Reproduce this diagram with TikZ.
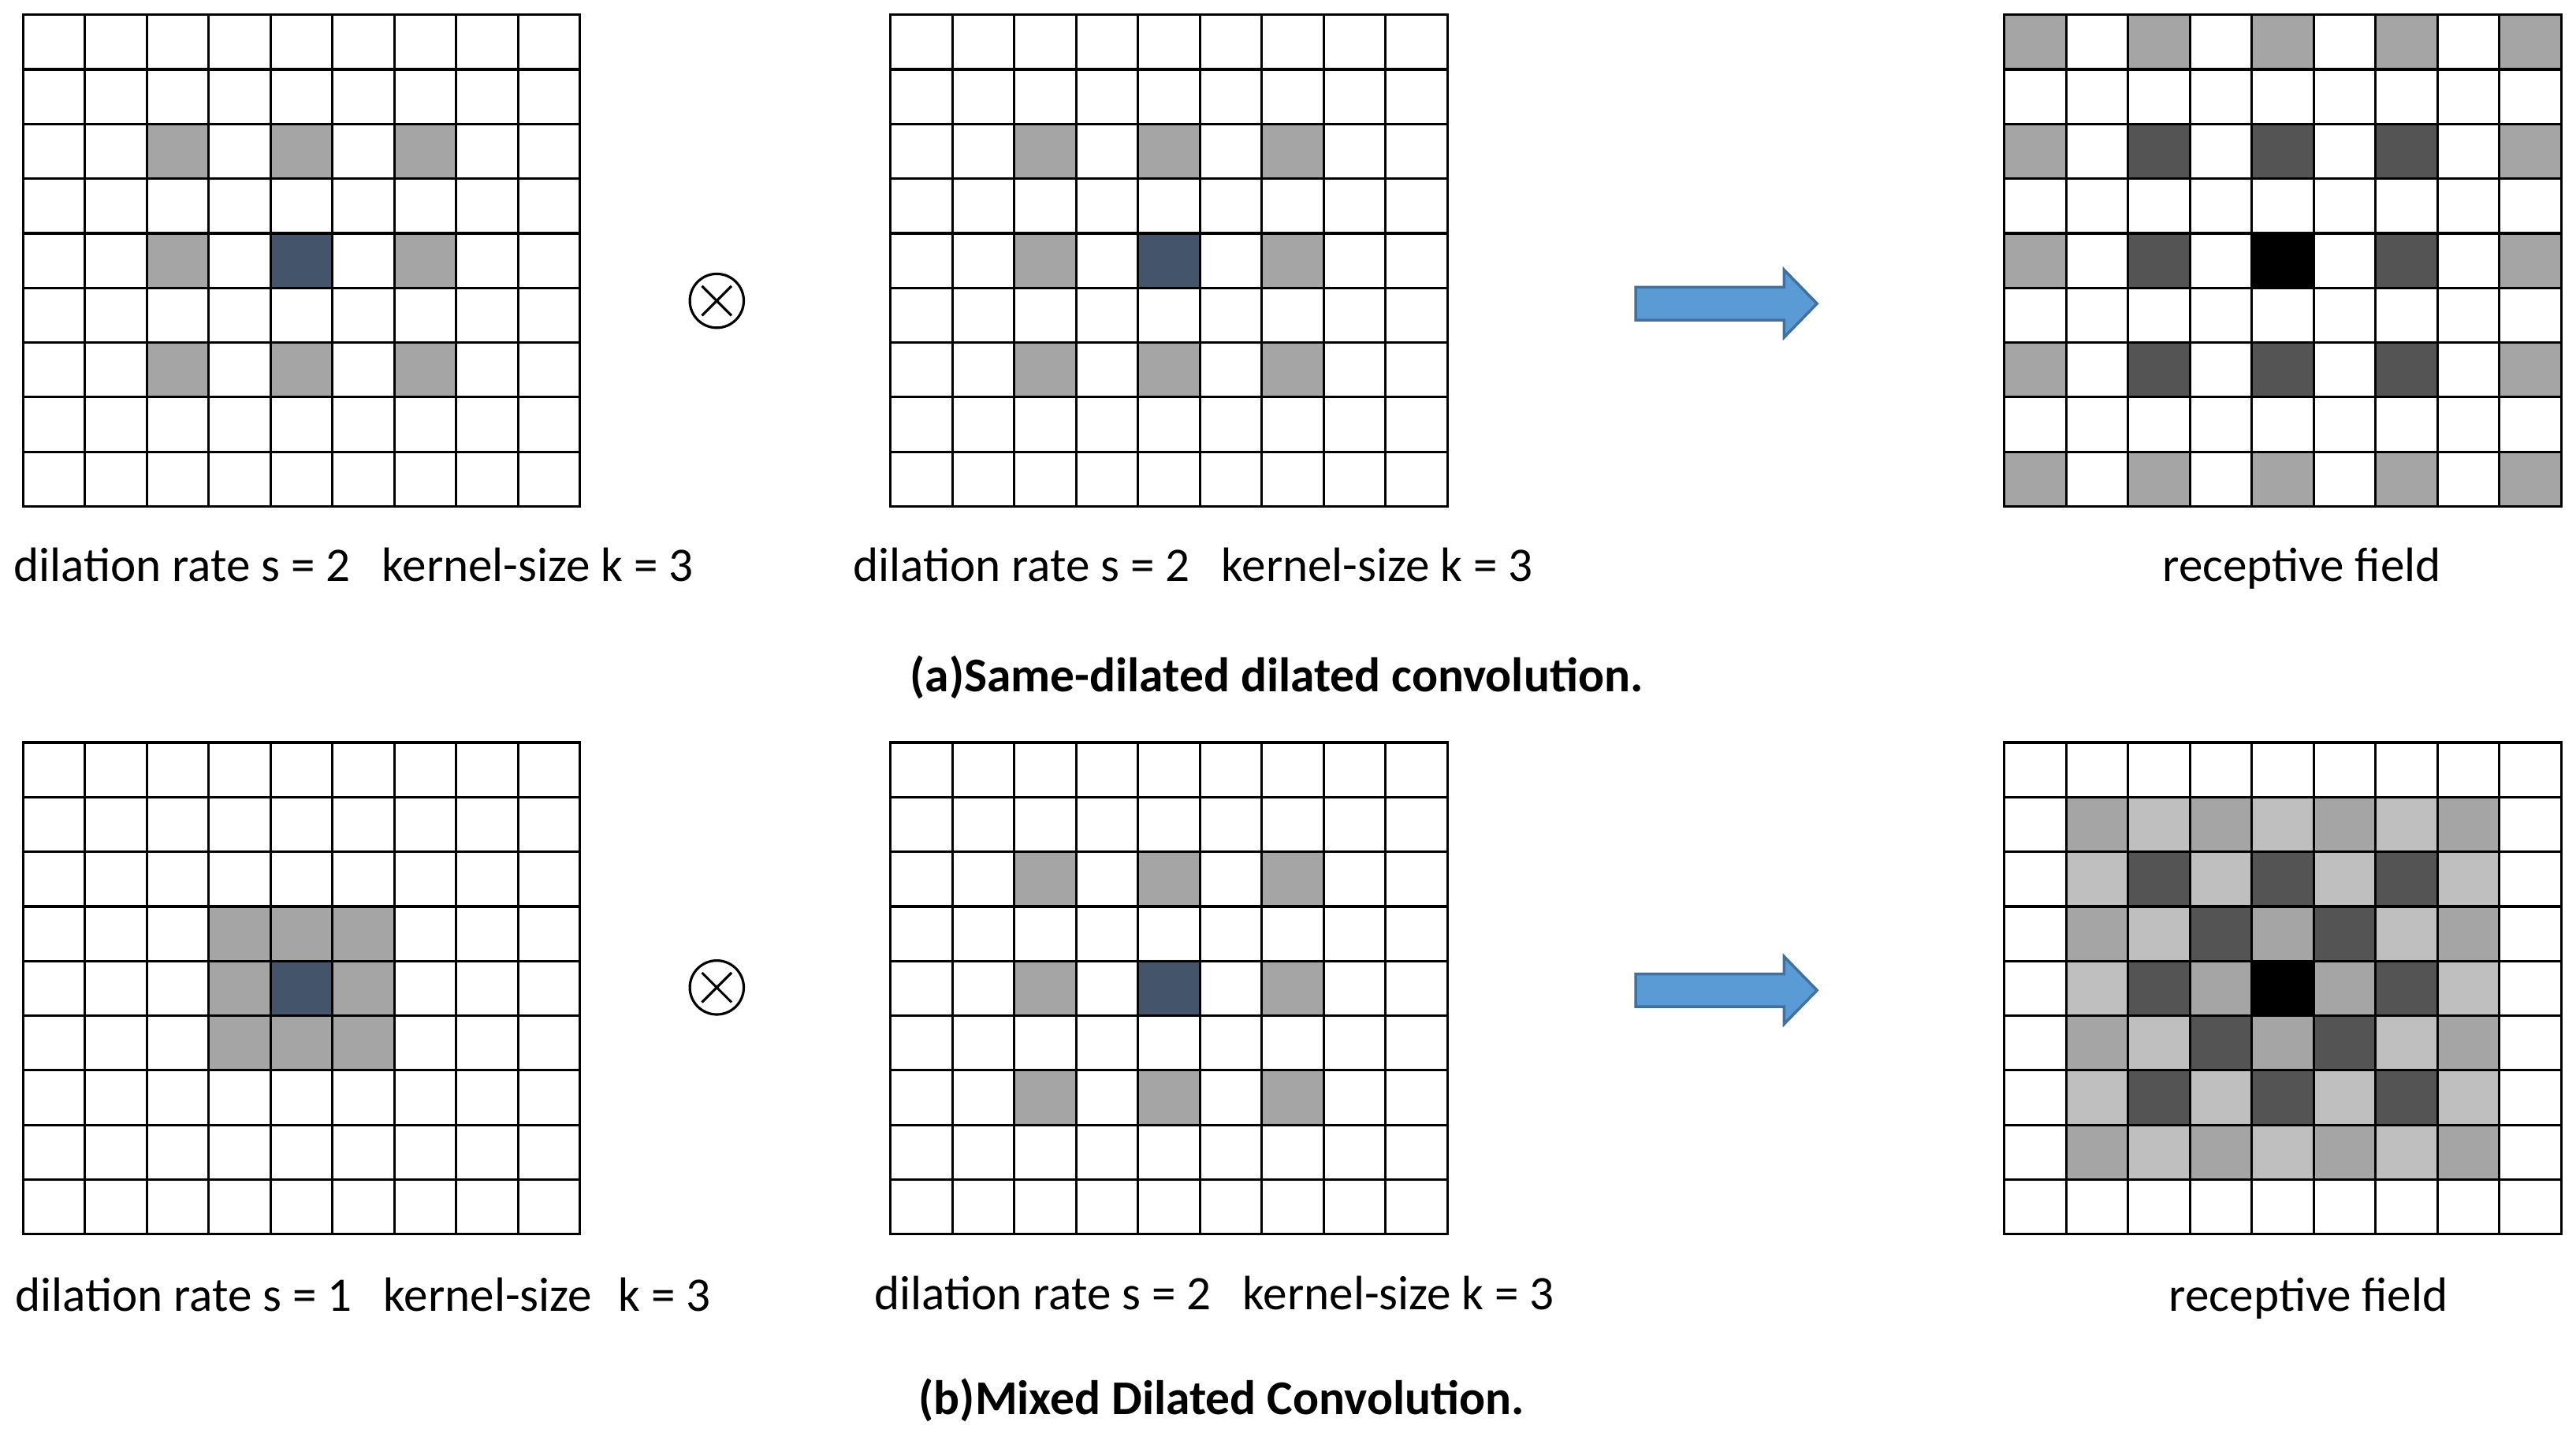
\documentclass[tikz,border=0pt]{standalone}
\usepackage{fontspec}
\setmainfont{Carlito}
\definecolor{gA}{HTML}{A5A5A5}
\definecolor{gL}{HTML}{BFBFBF}
\definecolor{gD}{HTML}{545454}
\definecolor{kB}{HTML}{44546A}
\definecolor{arrFill}{HTML}{5B9BD5}
\definecolor{arrLine}{HTML}{41719C}
\newcommand\drawgrid[3]{%
  \node[inner sep=0, minimum width=7.065cm, minimum height=6.233cm, anchor=north west] (#1) at (#2,#3) {};
  \foreach \i in {0,...,9}{%
    \draw[gridline] ({#2+\i*37.667},#3) -- ({#2+\i*37.667},{#3+299.25});
    \draw[gridline] (#2,{#3+\i*33.25}) -- ({#2+339},{#3+\i*33.25});
  }%
}
\newcommand\fillcells[4]{%
  \foreach \c/\r in {#4}{%
    \fill[#3] ({#1+\c*37.667},{#2+\r*33.25}) rectangle ++(37.667,33.25);
  }%
}
\newcommand\bigarrow[2]{%
  \draw[arrowshape] (995.6,{#2-10}) -- (1086,{#2-10}) -- (1086,{#2-20.5}) -- (1106,#2) -- (1086,{#2+20.5}) -- (1086,{#2+10}) -- (995.6,{#2+10}) -- cycle;
  \coordinate (#1) at (1050,#2);
}
\newcommand\otimesmark[3]{%
  \node[draw, circle, line width=0.9pt, minimum size=0.684cm, inner sep=0] (#1) at (#2,#3) {};
  \draw[line width=0.9pt] ({#2-9},{#3-9}) -- ({#2+9},{#3+9});
  \draw[line width=0.9pt] ({#2-9},{#3+9}) -- ({#2+9},{#3-9});
}
\begin{document}
\begin{tikzpicture}[x=0.020842cm, y=-0.020842cm,
  gridline/.style={line width=0.9pt, black, line cap=rect},
  arrowshape/.style={fill=arrFill, draw=arrLine, line width=1pt, line join=miter},
  lbl/.style={font=\fontsize{17.4}{21}\selectfont, inner sep=0, anchor=base west},
  ttl/.style={font=\fontsize{17.5}{21}\selectfont\bfseries, inner sep=0, anchor=base}]
\fill[white] (0,0) rectangle (1568,872);
\useasboundingbox (0,0) rectangle (1568,872);
% ---------- row (a) ----------
\fillcells{14}{9}{gA}{2/2,4/2,6/2,2/4,6/4,2/6,4/6,6/6}
\fillcells{14}{9}{kB}{4/4}
\drawgrid{a1}{14}{9}
\fillcells{542}{9}{gA}{2/2,4/2,6/2,2/4,6/4,2/6,4/6,6/6}
\fillcells{542}{9}{kB}{4/4}
\drawgrid{a2}{542}{9}
\fillcells{1220}{9}{gA}{0/0,2/0,4/0,6/0,8/0,0/2,8/2,0/4,8/4,0/6,8/6,0/8,2/8,4/8,6/8,8/8}
\fillcells{1220}{9}{gD}{2/2,4/2,6/2,2/4,6/4,2/6,4/6,6/6}
\fillcells{1220}{9}{black}{4/4}
\drawgrid{a3}{1220}{9}
\otimesmark{oxa}{436.3}{183.1}
\bigarrow{arra}{184.8}
\node[lbl] (la1) at (8,354) {dilation rate s = 2\hspace{0.66em}kernel-size k = 3};
\node[lbl] (la2) at (519,354) {dilation rate s = 2\hspace{0.66em}kernel-size k = 3};
\node[lbl] (la3) at (1316,354) {receptive field};
\node[ttl] (ta) at (777,421) {(a)Same-dilated dilated convolution.};
% ---------- row (b) ----------
\fillcells{14}{452}{gA}{3/3,4/3,5/3,3/4,5/4,3/5,4/5,5/5}
\fillcells{14}{452}{kB}{4/4}
\drawgrid{b1}{14}{452}
\fillcells{542}{452}{gA}{2/2,4/2,6/2,2/4,6/4,2/6,4/6,6/6}
\fillcells{542}{452}{kB}{4/4}
\drawgrid{b2}{542}{452}
\fill[gL] ({1220+37.667},{452+33.25}) rectangle ++({7*37.667},{7*33.25});
\fillcells{1220}{452}{gA}{1/1,3/1,5/1,7/1,1/3,4/3,7/3,3/4,5/4,1/5,4/5,7/5,1/7,3/7,5/7,7/7}
\fillcells{1220}{452}{gD}{2/2,4/2,6/2,3/3,5/3,2/4,6/4,3/5,5/5,2/6,4/6,6/6}
\fillcells{1220}{452}{black}{4/4}
\drawgrid{b3}{1220}{452}
\otimesmark{oxb}{436.3}{601.1}
\bigarrow{arrb}{602.8}
\node[lbl] (lb1) at (9,798) {dilation rate s = 1\hspace{0.66em}kernel-size\hspace{0.55em}k = 3};
\node[lbl] (lb2) at (532,797) {dilation rate s = 2\hspace{0.66em}kernel-size k = 3};
\node[lbl] (lb3) at (1320,798) {receptive field};
\node[ttl] (tb) at (743.5,861) {(b)Mixed Dilated Convolution.};
\end{tikzpicture}
\end{document}
